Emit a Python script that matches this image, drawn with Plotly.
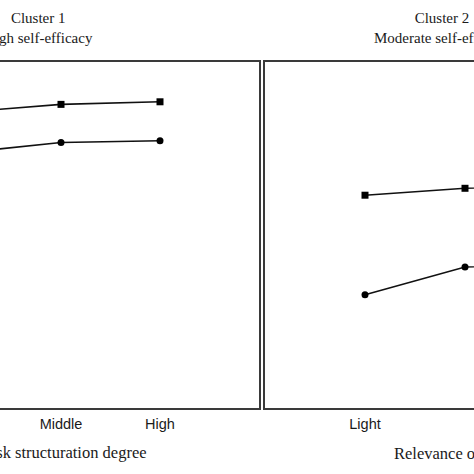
import plotly.graph_objects as go

# Data (y on an arbitrary 1-5 scale)
task_levels = ["Low", "Middle", "High"]
relevance_levels = ["Light", "Middle", "High"]
positions = [0, 1, 2]

c1_square = [4.42, 4.51, 4.54]
c1_circle = [3.95, 4.07, 4.09]
c2_square = [3.46, 3.54, 3.58]
c2_circle = [2.31, 2.63, 2.66]

W = H = 474
BOX = "#3a3a3a"
SERIF = "Liberation Serif, Times New Roman, serif"
SANS = "Liberation Sans, Arial, sans-serif"

fig = go.Figure()

def add_series(xa, ya, vals, symbol):
    fig.add_trace(go.Scatter(
        x=positions, y=vals, xaxis=xa, yaxis=ya, mode="lines+markers",
        line=dict(color="#111111", width=1.6),
        marker=dict(symbol=symbol, size=7, color="#000000"),
        showlegend=False, hoverinfo="skip"))

add_series("x", "y", c1_square, "square")
add_series("x", "y", c1_circle, "circle")
add_series("x2", "y2", c2_square, "square")
add_series("x2", "y2", c2_circle, "circle")

ydom = [1 - 408 / H, 1 - 62 / H]
yrange = [1, 5]

base_x = dict(showgrid=False, zeroline=False, showline=True, linecolor=BOX,
              linewidth=2, mirror=True, ticks="outside", ticklen=2,
              tickcolor="rgba(0,0,0,0)", tickfont=dict(family=SANS, size=14.5, color="#1a1a1a"),
              tickvals=positions)

fig.update_layout(
    width=W, height=H, margin=dict(l=0, r=0, t=0, b=0),
    paper_bgcolor="white", plot_bgcolor="white",
    xaxis=dict(base_x, domain=[0, 259 / W], range=[1 - 61 / 99, 3.0],
               ticktext=task_levels, anchor="y"),
    xaxis2=dict(base_x, domain=[265 / W, 1], range=[-1, (474 - 365) / 100],
                ticktext=relevance_levels, anchor="y2"),
    xaxis3=dict(overlaying="x", side="top", anchor="y", range=[1 - 61 / 99, 3.0],
                tickvals=positions, ticks="inside", ticklen=3, tickcolor="#9a9a9a",
                tickwidth=1, showticklabels=False, showgrid=False, zeroline=False,
                showline=False),
    xaxis4=dict(overlaying="x2", side="top", anchor="y2", range=[-1, (474 - 365) / 100],
                tickvals=positions, ticks="inside", ticklen=3, tickcolor="#9a9a9a",
                tickwidth=1, showticklabels=False, showgrid=False, zeroline=False,
                showline=False),
    yaxis=dict(domain=ydom, range=yrange, anchor="x", side="right", showline=True,
               linecolor=BOX, linewidth=2, showticklabels=False, ticks="",
               showgrid=False, zeroline=False),
    yaxis2=dict(domain=ydom, range=yrange, anchor="x2", side="left", showline=True,
                linecolor=BOX, linewidth=2, showticklabels=False, ticks="",
                showgrid=False, zeroline=False),
)

title_font = dict(family=SERIF, size=15, color="#1a1a1a")
fig.add_annotation(text="Cluster 1<br>High self-efficacy", xref="x", yref="paper",
                   x=0.77, y=1 - 28.5 / H, xanchor="center", yanchor="middle",
                   showarrow=False, font=title_font, align="center")
fig.add_annotation(text="Cluster 2<br>Moderate self-efficacy", xref="x2", yref="paper",
                   x=0.77, y=1 - 28.5 / H, xanchor="center", yanchor="middle",
                   showarrow=False, font=title_font, align="center")

axis_title_font = dict(family=SERIF, size=16.5, color="#1a1a1a")
fig.add_annotation(text="Task structuration degree", xref="x", yref="paper",
                   x=1 + 88 / 99, y=1 - 452 / H, xanchor="right", yanchor="middle",
                   showarrow=False, font=axis_title_font)
fig.add_annotation(text="Relevance of the content", xref="x2", yref="paper",
                   x=(392 - 365) / 100, y=1 - 453 / H, xanchor="left", yanchor="middle",
                   showarrow=False, font=axis_title_font)

fig.write_html("out.html")
